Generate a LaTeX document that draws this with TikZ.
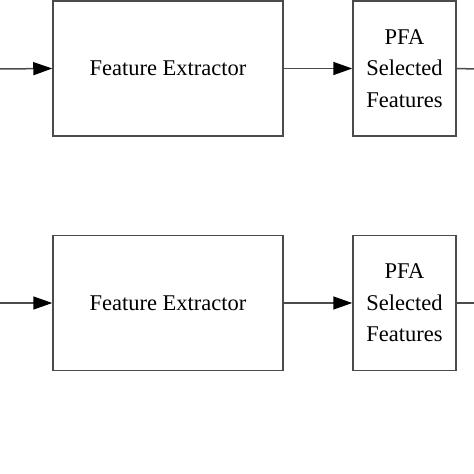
\documentclass[tikz,border=0pt]{standalone}
\usepackage{fontspec}
\setmainfont{Liberation Serif}
\usetikzlibrary{arrows.meta}
\definecolor{linegray}{RGB}{75,75,75}
\begin{document}
\begin{tikzpicture}[x=1pt,y=-1pt,
  blockbox/.style={draw=linegray,line width=1.5pt,inner sep=0pt,font=\fontsize{22.5}{31.5}\selectfont,align=center},
  bigbox/.style={blockbox,minimum width=230pt,minimum height=135pt},
  smallbox/.style={blockbox,minimum width=103pt,minimum height=135pt},
  conn/.style={draw=linegray,line width=1.5pt},
  arr/.style={conn,-{Triangle[length=19pt,width=13pt,color=black]}}]
\useasboundingbox (0,0) rectangle (474,474);
% top row
\node[bigbox] (fe1) at (168,68.5) {Feature Extractor};
\node[smallbox] (pfa1) at (404.5,68.5) {PFA\\Selected\\Features};
\coordinate (in1) at (-1,69);
\coordinate (out1) at (475,69);
\draw[arr] (in1) -- (fe1.west);
\draw[arr] (fe1.east) -- (pfa1.west);
\draw[conn] (pfa1.east) -- (out1);
% bottom row
\node[bigbox] (fe2) at (168,303) {Feature Extractor};
\node[smallbox] (pfa2) at (404.5,303) {PFA\\Selected\\Features};
\coordinate (in2) at (-1,303);
\coordinate (out2) at (475,303);
\draw[arr] (in2) -- (fe2.west);
\draw[arr] (fe2.east) -- (pfa2.west);
\draw[conn] (pfa2.east) -- (out2);
\end{tikzpicture}
\end{document}
